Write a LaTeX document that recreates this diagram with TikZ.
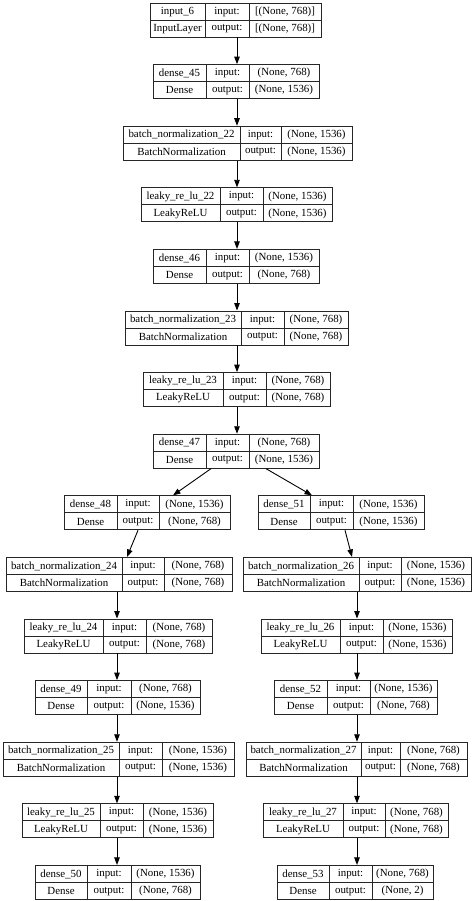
\documentclass[tikz,border=0pt]{standalone}
\usepackage{fontspec}
\setmainfont{Liberation Serif}
\usetikzlibrary{fit,arrows.meta}
\def\lyrcoords#1,#2,#3,#4\relax{\def\xl{#1}\def\xa{#2}\def\xb{#3}\def\xe{#4}}
\newcommand\lyr[7]{%
  \lyrcoords#3\relax
  \pgfmathsetmacro\yt{3+61.6*#2}%
  \pgfmathsetmacro\yb{\yt+34}%
  \pgfmathsetmacro\ym{\yt+17}%
  \pgfmathsetmacro\yu{\yt+8.7}%
  \pgfmathsetmacro\yd{\yt+25.7}%
  \node[boxline, fit={(\xl,\yt) (\xe,\yb)}] (#1) {};
  \draw[boxline] (\xa,\yt) -- (\xa,\yb) (\xb,\yt) -- (\xb,\yb) (\xl,\ym) -- (\xe,\ym);
  \node[txt] (#1-n) at ({(\xl+\xa)/2},\yu) {#4};
  \node[txt] (#1-t) at ({(\xl+\xa)/2},\yd) {#5};
  \node[txt] (#1-i) at ({(\xa+\xb)/2},\yu) {input:};
  \node[txt] (#1-o) at ({(\xa+\xb)/2},\yd) {output:};
  \node[txt] (#1-vi) at ({(\xb+\xe)/2},\yu) {#6};
  \node[txt] (#1-vo) at ({(\xb+\xe)/2},\yd) {#7};
}
\begin{document}
\begin{tikzpicture}[x=1pt,y=-1pt,
  boxline/.style={draw=black!85, line width=0.9pt, inner sep=0pt},
  txt/.style={inner sep=0pt, font=\fontsize{10.9}{13}\selectfont, text=black},
  arr/.style={draw=black, line width=0.9pt, -{Triangle[length=7.5pt,width=5.5pt]}}]
\useasboundingbox[fill=white] (0,0) rectangle (474,901);
\coordinate (cM) at (237,0);
\coordinate (cL) at (117,0);
\coordinate (cR) at (357,0);
\lyr{in6}{0}{150,205,249,321}{input\_6}{InputLayer}{[(None, 768)]}{[(None, 768)]}
\lyr{d45}{1}{153,206,249,319}{dense\_45}{Dense}{(None, 768)}{(None, 1536)}
\lyr{bn22}{2}{123,240,281,352}{batch\_normalization\_22}{BatchNormalization}{(None, 1536)}{(None, 1536)}
\lyr{lr22}{3}{141,220,263,332}{leaky\_re\_lu\_22}{LeakyReLU}{(None, 1536)}{(None, 1536)}
\lyr{d46}{4}{153,206,249,319}{dense\_46}{Dense}{(None, 1536)}{(None, 768)}
\lyr{bn23}{5}{125,241,284,348}{batch\_normalization\_23}{BatchNormalization}{(None, 768)}{(None, 768)}
\lyr{lr23}{6}{143,223,266,330}{leaky\_re\_lu\_23}{LeakyReLU}{(None, 768)}{(None, 768)}
\lyr{d47}{7}{153,206,249,319}{dense\_47}{Dense}{(None, 768)}{(None, 1536)}
\lyr{d48}{8}{64,117,159,230}{dense\_48}{Dense}{(None, 1536)}{(None, 768)}
\lyr{d51}{8}{258,310,353,424}{dense\_51}{Dense}{(None, 1536)}{(None, 1536)}
\lyr{bn24}{9}{6,122,164,232}{batch\_normalization\_24}{BatchNormalization}{(None, 768)}{(None, 768)}
\lyr{bn26}{9}{243,359,401,471}{batch\_normalization\_26}{BatchNormalization}{(None, 1536)}{(None, 1536)}
\lyr{lr24}{10}{24,103,146,212}{leaky\_re\_lu\_24}{LeakyReLU}{(None, 768)}{(None, 768)}
\lyr{lr26}{10}{261,340,383,452}{leaky\_re\_lu\_26}{LeakyReLU}{(None, 1536)}{(None, 1536)}
\lyr{d49}{11}{35,87,131,200}{dense\_49}{Dense}{(None, 768)}{(None, 1536)}
\lyr{d52}{11}{274,327,370,437}{dense\_52}{Dense}{(None, 1536)}{(None, 768)}
\lyr{bn25}{12}{3,119,162,234}{batch\_normalization\_25}{BatchNormalization}{(None, 1536)}{(None, 1536)}
\lyr{bn27}{12}{246,361,400,467}{batch\_normalization\_27}{BatchNormalization}{(None, 768)}{(None, 768)}
\lyr{lr25}{13}{22,100,143,213}{leaky\_re\_lu\_25}{LeakyReLU}{(None, 1536)}{(None, 1536)}
\lyr{lr27}{13}{263,343,385,448}{leaky\_re\_lu\_27}{LeakyReLU}{(None, 768)}{(None, 768)}
\lyr{d50}{14}{35,87,131,200}{dense\_50}{Dense}{(None, 1536)}{(None, 768)}
\lyr{d53}{14}{277,329,372,433}{dense\_53}{Dense}{(None, 768)}{(None, 2)}
% main column
\draw[arr] (cM |- in6.south) -- (cM |- d45.north);
\draw[arr] (cM |- d45.south) -- (cM |- bn22.north);
\draw[arr] (cM |- bn22.south) -- (cM |- lr22.north);
\draw[arr] (cM |- lr22.south) -- (cM |- d46.north);
\draw[arr] (cM |- d46.south) -- (cM |- bn23.north);
\draw[arr] (cM |- bn23.south) -- (cM |- lr23.north);
\draw[arr] (cM |- lr23.south) -- (cM |- d47.north);
% branch
\draw[arr] ([xshift=-25pt]d47.south) -- ([xshift=26pt]d48.north);
\draw[arr] ([xshift=30pt]d47.south) -- ([xshift=-29pt]d51.north);
\draw[arr] ([xshift=-9pt]d48.south) -- ([xshift=8pt]bn24.north);
\draw[arr] ([xshift=4pt]d51.south) -- ([xshift=-5pt]bn26.north);
% left column
\draw[arr] (cL |- bn24.south) -- (cL |- lr24.north);
\draw[arr] (cL |- lr24.south) -- (cL |- d49.north);
\draw[arr] (cL |- d49.south) -- (cL |- bn25.north);
\draw[arr] (cL |- bn25.south) -- (cL |- lr25.north);
\draw[arr] (cL |- lr25.south) -- (cL |- d50.north);
% right column
\draw[arr] (cR |- bn26.south) -- (cR |- lr26.north);
\draw[arr] (cR |- lr26.south) -- (cR |- d52.north);
\draw[arr] (cR |- d52.south) -- (cR |- bn27.north);
\draw[arr] (cR |- bn27.south) -- (cR |- lr27.north);
\draw[arr] (cR |- lr27.south) -- (cR |- d53.north);
\end{tikzpicture}
\end{document}
